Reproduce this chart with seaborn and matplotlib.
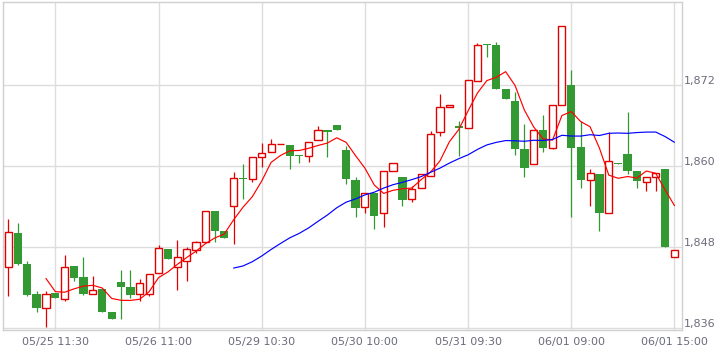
import numpy as np
import pandas as pd
import matplotlib
matplotlib.use("Agg")
import matplotlib.pyplot as plt
import matplotlib.transforms as mtransforms
import seaborn as sns

# ---- data ----
opens = [1845.0, 1850.1, 1845.5, 1841.1, 1839.0, 1841.2, 1840.3, 1845.2, 1843.6, 1841.0,
         1841.8, 1838.4, 1842.8, 1842.1, 1841.0, 1841.0, 1844.1, 1847.7, 1845.1, 1845.9,
         1847.6, 1848.8, 1853.4, 1850.4, 1854.0, 1858.2, 1858.0, 1861.3, 1862.1, 1863.2,
         1863.1, 1861.7, 1861.5, 1863.9, 1865.4, 1866.1, 1862.4, 1857.9, 1853.9, 1856.0,
         1853.0, 1859.2, 1858.3, 1855.1, 1856.7, 1858.5, 1865.0, 1868.8, 1866.0, 1865.7,
         1872.6, 1878.1, 1877.9, 1871.4, 1869.7, 1862.5, 1860.3, 1865.3, 1862.6, 1869.1,
         1872.0, 1862.8, 1857.9, 1858.8, 1853.1, 1860.4, 1861.8, 1859.3, 1857.6, 1858.3,
         1859.6, 1846.5]
highs = [1852.2, 1851.5, 1845.9, 1841.5, 1841.5, 1841.2, 1846.8, 1845.2, 1846.5, 1843.7,
         1841.8, 1838.4, 1844.6, 1844.6, 1843.2, 1844.0, 1848.3, 1847.7, 1849.0, 1848.0,
         1848.9, 1853.4, 1853.4, 1850.4, 1859.1, 1860.3, 1861.3, 1863.4, 1864.0, 1863.3,
         1863.1, 1861.7, 1863.6, 1866.0, 1865.4, 1866.1, 1863.0, 1858.4, 1856.0, 1856.0,
         1859.2, 1860.4, 1858.3, 1857.0, 1858.8, 1865.2, 1870.7, 1869.0, 1866.7, 1872.7,
         1878.2, 1878.1, 1878.4, 1871.4, 1870.9, 1866.2, 1865.3, 1867.6, 1869.1, 1880.7,
         1874.2, 1866.6, 1859.6, 1858.8, 1865.1, 1860.4, 1868.0, 1859.3, 1858.3, 1859.0,
         1859.6, 1847.5]
lows = [1840.8, 1845.3, 1840.7, 1838.4, 1836.1, 1840.4, 1840.0, 1843.0, 1840.9, 1841.0,
        1838.4, 1837.4, 1837.4, 1840.4, 1840.0, 1840.8, 1844.1, 1846.2, 1841.6, 1843.0,
        1847.1, 1848.8, 1848.7, 1849.4, 1848.5, 1855.1, 1857.6, 1859.8, 1862.1, 1863.2,
        1859.5, 1860.5, 1860.6, 1863.9, 1861.3, 1865.4, 1857.3, 1852.4, 1853.0, 1850.7,
        1850.9, 1859.2, 1854.0, 1854.6, 1856.7, 1858.5, 1864.5, 1868.8, 1861.5, 1865.7,
        1872.6, 1876.1, 1871.4, 1869.9, 1861.6, 1858.4, 1860.3, 1862.1, 1862.5, 1869.1,
        1852.4, 1856.8, 1854.0, 1850.3, 1853.1, 1860.3, 1858.8, 1856.7, 1856.3, 1856.3,
        1848.0, 1846.5]
closes = [1850.2, 1845.5, 1840.9, 1839.0, 1841.1, 1840.4, 1845.1, 1843.4, 1841.0, 1841.7,
          1838.4, 1837.4, 1842.0, 1840.9, 1842.6, 1844.0, 1847.8, 1846.2, 1846.5, 1847.7,
          1848.7, 1853.4, 1850.4, 1849.4, 1858.2, 1858.0, 1861.3, 1862.0, 1863.2, 1863.3,
          1861.5, 1861.5, 1863.6, 1865.3, 1865.1, 1865.4, 1858.1, 1853.8, 1856.0, 1852.6,
          1859.2, 1860.4, 1854.9, 1856.6, 1858.8, 1864.8, 1868.7, 1869.0, 1865.7, 1872.7,
          1878.0, 1877.9, 1871.4, 1869.9, 1862.5, 1859.7, 1865.3, 1862.7, 1869.0, 1880.7,
          1862.6, 1857.9, 1858.9, 1853.1, 1860.7, 1860.3, 1859.2, 1857.8, 1858.3, 1859.0,
          1848.0, 1847.5]
tick_positions = [5, 16, 27, 38, 49, 60, 71]
tick_labels = ["05/25 11:30", "05/26 11:00", "05/29 10:30", "05/30 10:00",
               "05/31 09:30", "06/01 09:00", "06/01 15:00"]
y_ticks = [1836, 1848, 1860, 1872]
y_tick_labels = ["1,836", "1,848", "1,860", "1,872"]
short_window = 5
long_window = 25

# ---- styles ----
UP = "#e00000"
DOWN = "#339933"
GRID = "#dddddd"
TEXT = "#6b6b7b"

df = pd.DataFrame({"i": np.arange(len(closes)), "open": opens, "high": highs,
                   "low": lows, "close": closes})
df["ma_short"] = df["close"].rolling(short_window).mean()
df["ma_long"] = df["close"].rolling(long_window).mean()

sns.set_style("white")
plt.rcParams["font.family"] = ["DejaVu Sans"]

W, H = 719, 352
fig = plt.figure(figsize=(W / 100, H / 100), dpi=100)
ax = fig.add_axes([3 / W, 1 - 330 / H, (682 - 3) / W, (330 - 2) / H])

up = df["close"] >= df["open"]
width = 0.88

# wicks
for is_up, col in ((True, UP), (False, DOWN)):
    sub = df[up == is_up]
    ax.vlines(sub["i"], sub["low"], sub["high"], color=col, linewidth=0.9, zorder=2)

# bodies
body_bottom = np.minimum(df["open"], df["close"])
body_h = np.maximum(np.abs(df["close"] - df["open"]), 0.12)
ax.bar(df["i"][up], body_h[up], bottom=body_bottom[up], width=width - 0.12,
       facecolor="white", edgecolor=UP, linewidth=1.0, zorder=3)
ax.bar(df["i"][~up], body_h[~up], bottom=body_bottom[~up], width=width,
       facecolor=DOWN, edgecolor="none", linewidth=0, zorder=3)

# moving averages
sns.lineplot(data=df, x="i", y="ma_short", color="#ff0000", linewidth=0.85, ax=ax, zorder=4)
sns.lineplot(data=df, x="i", y="ma_long", color="#0000ff", linewidth=0.85, ax=ax, zorder=4)

ax.set_xlim(-0.58, 71.8)
ax.set_ylim(1835.7, 1884.3)
ax.set_xlabel("")
ax.set_ylabel("")

ax.set_xticks(tick_positions)
ax.set_xticklabels(tick_labels)
ax.set_yticks(y_ticks)
ax.set_yticklabels(y_tick_labels)
ax.yaxis.tick_right()
ax.tick_params(axis="both", length=0, labelsize=8, labelcolor=TEXT)
ax.tick_params(axis="x", pad=5)
ax.tick_params(axis="y", pad=1)
offset = mtransforms.ScaledTranslation(0, 5 / 100, fig.dpi_scale_trans)
for lab in ax.get_yticklabels():
    lab.set_transform(lab.get_transform() + offset)

ax.grid(True, color=GRID, linewidth=1.0, zorder=0)
ax.set_axisbelow(True)
for s in ax.spines.values():
    s.set_visible(True)
    s.set_color("#d0d0d0")
    s.set_linewidth(1.0)

fig.savefig("out.png", dpi=100)
